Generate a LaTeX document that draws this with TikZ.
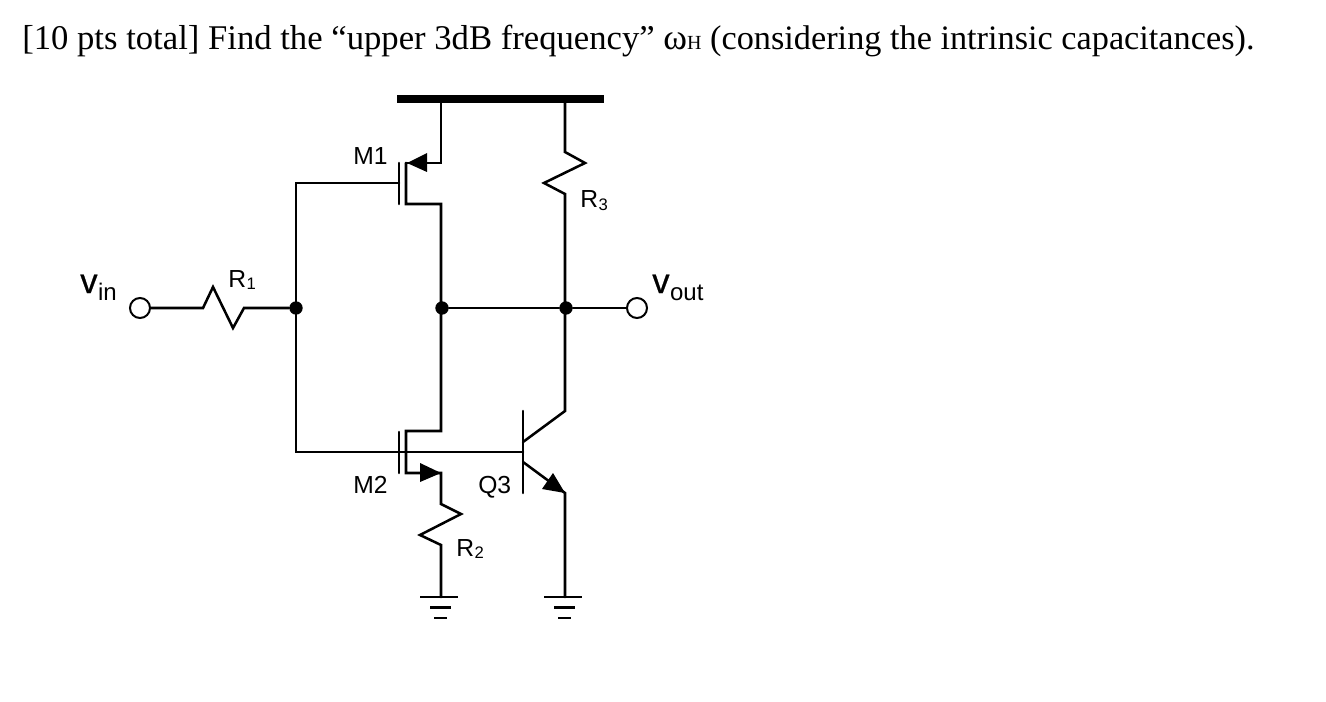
\documentclass[tikz,border=0pt]{standalone}
\usepackage{fontspec}
\setmainfont{Liberation Sans}
\newfontfamily\ttl{Liberation Serif}
\newfontfamily\vfont{Liberation Sans}[FakeBold=0.6]
\newcommand{\fs}[1]{\fontsize{#1}{#1}\selectfont}
\tikzset{
  wire/.style={line width=1.9pt,line join=miter,line cap=round,black},
  tip/.style={fill=black,draw=none},
  dot/.style={circle,fill=black,inner sep=0pt,minimum size=10pt},
  term/.style={circle,draw=black,fill=white,line width=1.5pt,inner sep=0pt,minimum size=15pt},
  lab/.style={anchor=base west,inner sep=0pt,text=black,font=\fs{18.5}},
  sub/.style={anchor=base west,inner sep=0pt,text=black,font=\fs{12.5}},
  subv/.style={anchor=base west,inner sep=0pt,text=black,font=\fs{18}},
  vee/.style={anchor=base west,inner sep=0pt,text=black,font=\vfont\fs{26}}
}
\begin{document}
\begin{tikzpicture}[x=0.75pt,y=-0.75pt]
\useasboundingbox (0,0) rectangle (1326,702);
% title
\node[anchor=base west,inner sep=0pt,font=\ttl\fs{26}] (title) at (22,50) {[10 pts total] Find the “upper 3dB frequency” {\fs{27}ω\fs{15}H} {\fs{25.7}(considering the intrinsic capacitances).}};
% named points
\coordinate (barL) at (397,99); \coordinate (barR) at (604,99);
\coordinate (vddM) at (441,99); \coordinate (vddR) at (565,99);
\coordinate (m1s) at (441,163); \coordinate (m1ch) at (406,163); \coordinate (m1chb) at (406,204);
\coordinate (m1gt) at (399,163); \coordinate (m1gb) at (399,204); \coordinate (m1g) at (399,183);
\coordinate (m1d) at (441,204); \coordinate (gtop) at (296,183); \coordinate (gbot) at (296,452);
\coordinate (r3a) at (565,152); \coordinate (r3b) at (585,163); \coordinate (r3c) at (544,183); \coordinate (r3d) at (565,194);
\coordinate (m2d) at (441,431); \coordinate (m2cht) at (406,431); \coordinate (m2chb) at (406,473);
\coordinate (m2gt) at (399,432); \coordinate (m2gb) at (399,473);
\coordinate (m2s) at (441,473);
\coordinate (r2a) at (441,504); \coordinate (r2b) at (461,514); \coordinate (r2c) at (420,535); \coordinate (r2d) at (441,545);
\coordinate (gnd2) at (441,597); \coordinate (gnd3) at (565,597);
\coordinate (bT) at (523,411); \coordinate (bB) at (523,493); \coordinate (bM) at (523,452);
\coordinate (cI) at (523,442); \coordinate (cO) at (565,411);
\coordinate (eI) at (523,462); \coordinate (eO) at (565,493);
\coordinate (z1) at (203,308); \coordinate (z2) at (213,287); \coordinate (z3) at (233,328); \coordinate (z4) at (244,308);
% nodes
\node[dot] (n1) at (296,308) {};
\node[dot] (n2) at (442,308) {};
\node[dot] (n3) at (566,308) {};
% wires
\draw[line width=6pt] (barL) -- (barR);
\draw[wire] (vddM) -- (m1s) -- (m1ch);
\draw[wire] (m1ch) -- (m1chb) -- (m1d) -- (m2d) -- (m2cht) -- (m2chb) -- (m2s) -- (r2a) -- (r2b) -- (r2c) -- (r2d) -- (gnd2);
\draw[wire] (m1gt) -- (m1gb);
\draw[wire] (m2gt) -- (m2gb);
\draw[wire] (m1g) -- (gtop) -- (gbot) -- (bM);
\draw[wire] (vddR) -- (r3a) -- (r3b) -- (r3c) -- (r3d) -- (cO) -- (cI);
\draw[wire] (bT) -- (bB);
\draw[wire] (eI) -- (eO) -- (gnd3);
\draw[wire] (n2) -- (n3);
% arrowheads
\fill[tip] (407,163) -- (427,153) -- (427,172) -- cycle;
\fill[tip] (441,473) -- (420,463) -- (420,482) -- cycle;
\fill[tip] (565,493) -- (553,473) -- (542,489) -- cycle;
% grounds
\foreach \c in {441,565}{
  \draw[wire,line cap=butt] (\c-21,597) -- (\c+17,597);
  \draw[wire,line cap=butt] (\c-11,607.5) -- (\c+10,607.5);
  \draw[wire,line cap=butt] (\c-7,618) -- (\c+6,618);
}
% terminals
\node[term] (vin) at (140,308) {};
\node[term] (vout) at (637,308) {};
\draw[wire] (vin) -- (z1) -- (z2) -- (z3) -- (z4) -- (n1);
\draw[wire] (n3) -- (vout);
% labels
\node[lab] (lm1) at (353,165) {M1};
\node[lab] (lm2) at (353,493) {M2};
\node[lab] (lq3) at (478,493) {Q3};
\node[lab] (lr1) at (228,287) {R};
\node[sub] (lr1s) at ([yshift=-1.5pt]lr1.base east) {1};
\node[lab] (lr2) at (456,556) {R};
\node[sub] (lr2s) at ([yshift=-2pt]lr2.base east) {2};
\node[lab] (lr3) at (580,208) {R};
\node[sub] (lr3s) at ([yshift=-2pt]lr3.base east) {3};
\node[vee] (lvi) at (80,293) {v};
\node[subv] (lvis) at ([yshift=-5.25pt]lvi.base east) {in};
\node[vee] (lvo) at (652,293) {v};
\node[subv] (lvos) at ([yshift=-5.25pt]lvo.base east) {out};
\end{tikzpicture}
\end{document}
